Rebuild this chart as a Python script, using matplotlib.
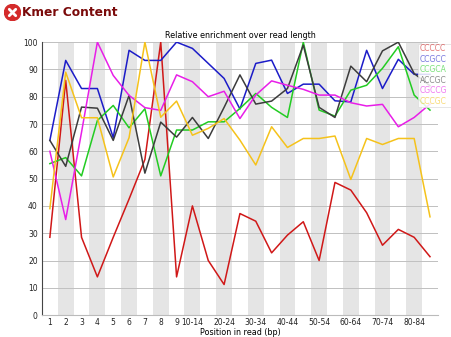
import numpy as np
import matplotlib
matplotlib.use("Agg")
import matplotlib.pyplot as plt
from matplotlib.patches import Circle

# posiciones en la lectura (bp)
posiciones = ['1', '2', '3', '4', '5', '6', '7', '8', '9',
              '10-14', '15-19', '20-24', '25-29', '30-34', '35-39',
              '40-44', '45-49', '50-54', '55-59', '60-64', '65-69',
              '70-74', '75-79', '80-84', '85-89']

# enriquecimiento relativo de cada kmer
cccc_c = [28.5, 86, 28.5, 14, 28.5, 42.5, 57, 100, 14,
          40, 20, 11.2, 37.2, 34.4, 22.8, 29.3, 34.2, 20, 48.6,
          45.8, 37.5, 25.6, 31.4, 28.5, 21.4]
ccgcc = [64, 93.3, 83, 83, 65, 97, 93.3, 93.3, 100,
         97.7, 92.2, 86.7, 75.5, 92.2, 93.4, 81.2, 84.6, 84.6, 78.5,
         78.1, 97, 83, 93.7, 88.2, 88.2]
ccgca = [55.5, 57.7, 51, 71.3, 76.8, 68.6, 75.6, 51, 67.8,
         67.8, 70.8, 70.8, 75.7, 81.2, 76.1, 72.4, 100, 75.1, 72.9,
         82.4, 84.2, 90.4, 98.3, 80.6, 75.1]
accgc = [64, 54.5, 76.2, 75.8, 64, 80.5, 52, 70.7, 65.2,
         72.4, 64.7, 76.1, 88, 77.3, 78.4, 83, 98.9, 76.1, 72.4,
         91.2, 85.5, 96.8, 100, 88.5, 84]
cgccg = [60, 35, 67, 100, 87.8, 80.5, 76, 75, 88,
         85.5, 80, 82, 72, 80.6, 85.8, 84.2, 82.7, 80.6, 80.6,
         77.8, 76.6, 77.2, 69, 72.4, 77.3]
cccgc = [39, 89, 72.3, 72.3, 50.6, 65, 100, 72.5, 78.4,
         65.9, 68.4, 72, 64.1, 55, 69, 61.4, 64.7, 64.7, 65.6,
         49.7, 64.7, 62.5, 64.7, 64.7, 36]

series = [('CCCCC', cccc_c, '#d01818'),
          ('CCGCC', ccgcc, '#1c1cc8'),
          ('CCGCA', ccgca, '#22cc22'),
          ('ACCGC', accgc, '#3c3c3c'),
          ('CGCCG', cgccg, '#e81ee8'),
          ('CCCGC', cccgc, '#f5c21b')]

fig = plt.figure(figsize=(4.51, 3.37), dpi=100)
ax = fig.add_axes([0.093, 0.065, 0.878, 0.81])

x = np.arange(len(posiciones))

# bandas grises alternadas
for i in x:
    if i % 2 == 1:
        ax.axvspan(i - 0.5, i + 0.5, color='#e5e5e5', lw=0, zorder=0)

for y in range(10, 101, 10):
    ax.axhline(y, color='#c0c0c0', lw=0.7, zorder=1)

for nombre, vals, col in series:
    ax.plot(x, vals, color=col, lw=1.1, zorder=3, label=nombre)

ax.set_xlim(-0.5, len(posiciones) - 0.5)
ax.set_ylim(0, 100)
ax.set_yticks(range(0, 101, 10))
ax.set_xticks(x)
etiquetas = [p if (i < 9 or (i - 9) % 2 == 0) and p != '85-89' else '' for i, p in enumerate(posiciones)]
ax.set_xticklabels(etiquetas)
ax.tick_params(axis='both', length=0, labelsize=5.5, colors='#222222')
ax.tick_params(axis='x', pad=2)
ax.tick_params(axis='y', pad=3)
for lado in ['top', 'right']:
    ax.spines[lado].set_visible(False)
ax.spines['left'].set_color('#444444')
ax.spines['bottom'].set_color('#bbbbbb')
ax.set_xlabel('Position in read (bp)', fontsize=5.8, labelpad=1)
ax.set_title('Relative enrichment over read length', fontsize=5.8, pad=3)

# leyenda a mano, texto de colores sobre caja blanca
fig.patches.append(plt.Rectangle((418 / 451, 1 - 107 / 337), 33 / 451, 63 / 337,
                                 transform=fig.transFigure, facecolor='white',
                                 edgecolor='#dddddd', lw=0.6, alpha=0.85, zorder=5))
for k, (nombre, vals, col) in enumerate(series):
    fig.text(420 / 451, 1 - (48.5 + k * 10.6) / 337, nombre, color=col, alpha=0.6,
             fontsize=5.5, va='center', ha='left', zorder=6)

# cabecera: icono de error y titulo
icono = fig.add_axes([4 / 451, 1 - 21 / 337, 17 / 451, 17 / 337])
icono.set_xlim(-1, 1)
icono.set_ylim(-1, 1)
icono.set_aspect('equal')
icono.axis('off')
icono.add_patch(Circle((0, 0), 0.95, color='#d42b2b'))
icono.plot([-0.38, 0.38], [-0.38, 0.38], color='white', lw=2.0, solid_capstyle='round')
icono.plot([-0.38, 0.38], [0.38, -0.38], color='white', lw=2.0, solid_capstyle='round')
fig.text(22 / 451, 1 - 12.5 / 337, 'Kmer Content', color='#7a0a0a', fontsize=8.8,
         fontweight='bold', va='center', ha='left')

fig.savefig('out.png', dpi=100)
